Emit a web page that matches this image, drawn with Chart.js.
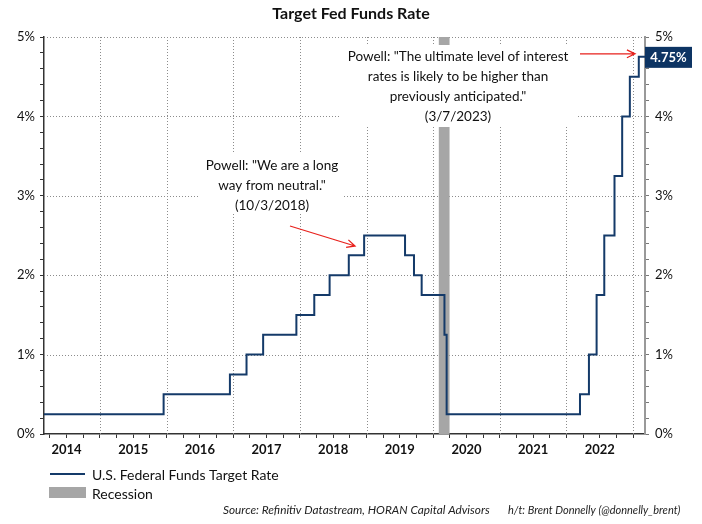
<!DOCTYPE html>
<html lang="en">
	<head>
		<meta charset="utf-8">
		<title>Target Fed Funds Rate</title>
		<script src="https://cdn.jsdelivr.net/npm/chart.js"></script>
		<style>
			html, body { margin: 0; padding: 0; background: #fff; }
			#wrap { width: 702px; height: 524px; }
		</style>
	</head>
	<body>
		<div id="wrap"><canvas id="chart" width="702" height="524"></canvas></div>
		<script>
			const rateDates = ["2014-03-01", "2015-12-16", "2016-12-14", "2017-03-15", "2017-06-14", "2017-12-13",
				"2018-03-21", "2018-06-13", "2018-09-26", "2018-12-19", "2019-07-31", "2019-09-18", "2019-10-30",
				"2020-03-03", "2020-03-15", "2022-03-16", "2022-05-04", "2022-06-15", "2022-07-27", "2022-09-21",
				"2022-11-02", "2022-12-14", "2023-02-01", "2023-03-07"]
			const rateValues = [0.25, 0.5, 0.75, 1.0, 1.25, 1.5, 1.75, 2.0, 2.25, 2.5, 2.25, 2.0, 1.75,
				1.25, 0.25, 0.5, 1.0, 1.75, 2.5, 3.25, 4.0, 4.5, 4.75, 4.75]
			const recession = ["2020-02-01", "2020-03-31"]
			const yearLabels = ["2014", "2015", "2016", "2017", "2018", "2019", "2020", "2021", "2022"]
			const gridYears = [2015, 2016, 2017, 2018, 2019, 2020, 2021, 2022, 2023]
			const gridRates = [1, 2, 3, 4, 5]
			const lastLabel = "4.75%"

			const FONT = "Lato, 'Noto Sans', sans-serif"
			const NAVY = "#143a69"
			const RED = "#e8211c"

			function toYear(s) {
				const d = new Date(s + "T00:00:00Z")
				const y = d.getUTCFullYear()
				const a = Date.UTC(y, 0, 1), b = Date.UTC(y + 1, 0, 1)
				return y + (d.getTime() - a) / (b - a)
			}
			const isWhole = v => Math.abs(v - Math.round(v)) < 1e-6

			const points = rateDates.map((d, i) => ({x: toYear(d), y: rateValues[i]}))
			const xMin = toYear(rateDates[0])
			const xMax = toYear(rateDates[rateDates.length - 1])

			function arrow(ctx, x1, y1, x2, y2) {
				const ang = Math.atan2(y2 - y1, x2 - x1)
				ctx.save()
				ctx.strokeStyle = RED
				ctx.lineWidth = 1.3
				ctx.beginPath()
				ctx.moveTo(x1, y1)
				ctx.lineTo(x2, y2)
				ctx.moveTo(x2 - 9 * Math.cos(ang - 0.45), y2 - 9 * Math.sin(ang - 0.45))
				ctx.lineTo(x2, y2)
				ctx.lineTo(x2 - 9 * Math.cos(ang + 0.45), y2 - 9 * Math.sin(ang + 0.45))
				ctx.stroke()
				ctx.restore()
			}

			function note(ctx, lines, cx, y0, box) {
				ctx.save()
				ctx.fillStyle = "#fff"
				ctx.fillRect(box[0], box[1], box[2] - box[0], box[3] - box[1])
				ctx.fillStyle = "#111"
				ctx.font = "13.5px " + FONT
				ctx.textAlign = "center"
				ctx.textBaseline = "middle"
				lines.forEach((t, i) => ctx.fillText(t, cx, y0 + i * 20))
				ctx.restore()
			}

			const decor = {
				id: "decor",
				beforeDatasetsDraw(chart) {
					const {ctx, chartArea, scales} = chart
					ctx.save()
					// dotted grid
					ctx.strokeStyle = "#8c8c8c"
					ctx.lineWidth = 1
					ctx.setLineDash([1, 2])
					ctx.beginPath()
					gridYears.forEach(v => {
						const x = Math.round(scales.x.getPixelForValue(v)) + 0.5
						ctx.moveTo(x, chartArea.top)
						ctx.lineTo(x, chartArea.bottom)
					})
					gridRates.forEach(v => {
						const y = Math.round(scales.y.getPixelForValue(v)) + 0.5
						ctx.moveTo(chartArea.left, y)
						ctx.lineTo(chartArea.right, y)
					})
					ctx.stroke()
					ctx.setLineDash([])
					// recession band
					const x1 = scales.x.getPixelForValue(toYear(recession[0]))
					const x2 = scales.x.getPixelForValue(toYear(recession[1]))
					ctx.fillStyle = "#a6a6a6"
					ctx.fillRect(x1, chartArea.top, x2 - x1, chartArea.bottom - chartArea.top)
					ctx.restore()
				},
				afterDraw(chart) {
					const {ctx, scales} = chart
					ctx.save()
					ctx.fillStyle = "#111"
					ctx.font = "bold 16px " + FONT
					ctx.textAlign = "center"
					ctx.textBaseline = "middle"
					ctx.fillText("Target Fed Funds Rate", 351, 14)

					note(ctx, ["Powell: \"The ultimate level of interest", "rates is likely to be higher than",
						"previously anticipated.\"", "(3/7/2023)"], 458, 57, [340, 45, 577, 127])
					note(ctx, ["Powell: \"We are a long", "way from neutral.\"", "(10/3/2018)"], 272, 166, [200, 153, 343, 214])

					const yLast = scales.y.getPixelForValue(rateValues[rateValues.length - 1])
					arrow(ctx, 580, yLast - 3, 635, yLast - 3)
					arrow(ctx, 290, 226, 355, 246)

					ctx.fillStyle = "#0d3463"
					ctx.fillRect(645, yLast - 10, 47, 21)
					ctx.fillStyle = "#fff"
					ctx.font = "bold 13px " + FONT
					ctx.textAlign = "center"
					ctx.fillText(lastLabel, 668.5, yLast + 0.5)

					ctx.strokeStyle = NAVY
					ctx.lineWidth = 2
					ctx.beginPath()
					ctx.moveTo(50, 474)
					ctx.lineTo(85, 474)
					ctx.stroke()
					ctx.fillStyle = "#a6a6a6"
					ctx.fillRect(49, 487, 37, 11)

					ctx.fillStyle = "#111"
					ctx.font = "14px " + FONT
					ctx.textAlign = "left"
					ctx.fillText("U.S. Federal Funds Target Rate", 92, 475)
					ctx.fillText("Recession", 92, 494)

					ctx.fillStyle = "#222"
					ctx.font = "italic 11.8px " + FONT
					ctx.fillText("Source: Refinitiv Datastream, HORAN Capital Advisors", 223, 510)
					ctx.font = "italic 11px " + FONT
					ctx.fillText("h/t: Brent Donnelly (@donnelly_brent)", 508, 510)
					ctx.restore()
				}
			}

			new Chart(document.getElementById("chart").getContext("2d"), {
				type: "line",
				data: {
					datasets: [{
						label: "U.S. Federal Funds Target Rate",
						data: points,
						stepped: true,
						borderColor: NAVY,
						borderWidth: 2,
						pointRadius: 0,
						fill: false
					}]
				},
				options: {
					responsive: false,
					animation: false,
					layout: {padding: {top: 37, bottom: 60, left: 0, right: 0}},
					plugins: {legend: {display: false}, tooltip: {enabled: false}},
					scales: {
						x: {
							type: "linear",
							min: xMin,
							max: xMax,
							afterFit: s => { s.height = 30 },
							afterBuildTicks: s => {
								const t = []
								for (let v = 2014.25; v <= 2023.001; v += 0.25) t.push({value: Math.round(v * 100) / 100})
								s.ticks = t
							},
							ticks: {
								autoSkip: false,
								maxRotation: 0,
								padding: 4,
								color: "#111",
								font: {family: FONT, size: 13, weight: "bold"},
								callback: v => {
									const i = yearLabels.indexOf(String(Math.floor(v)))
									return (Math.abs(v % 1 - 0.5) < 1e-6 && i >= 0) ? yearLabels[i] : ""
								}
							},
							grid: {drawOnChartArea: false, tickColor: "#333", tickLength: 4},
							border: {color: "#333", width: 1.5}
						},
						y: {
							min: 0,
							max: 5,
							afterFit: s => { s.width = 44 },
							ticks: {
								stepSize: 0.2,
								autoSkip: false,
								padding: 5,
								color: "#111",
								font: {family: FONT, size: 13},
								callback: v => isWhole(v) ? Math.round(v) + "%" : ""
							},
							grid: {drawOnChartArea: false, tickColor: "#333", tickLength: 4},
							border: {color: "#333", width: 1.5}
						},
						y2: {
							position: "right",
							min: 0,
							max: 5,
							afterFit: s => { s.width = 57 },
							ticks: {
								stepSize: 0.2,
								autoSkip: false,
								padding: 6,
								color: "#111",
								font: {family: FONT, size: 13},
								callback: v => isWhole(v) ? Math.round(v) + "%" : ""
							},
							grid: {drawOnChartArea: false, tickColor: "#777", tickLength: 4},
							border: {color: "#999", width: 2}
						}
					}
				},
				plugins: [decor]
			})
		</script>
	</body>
</html>
